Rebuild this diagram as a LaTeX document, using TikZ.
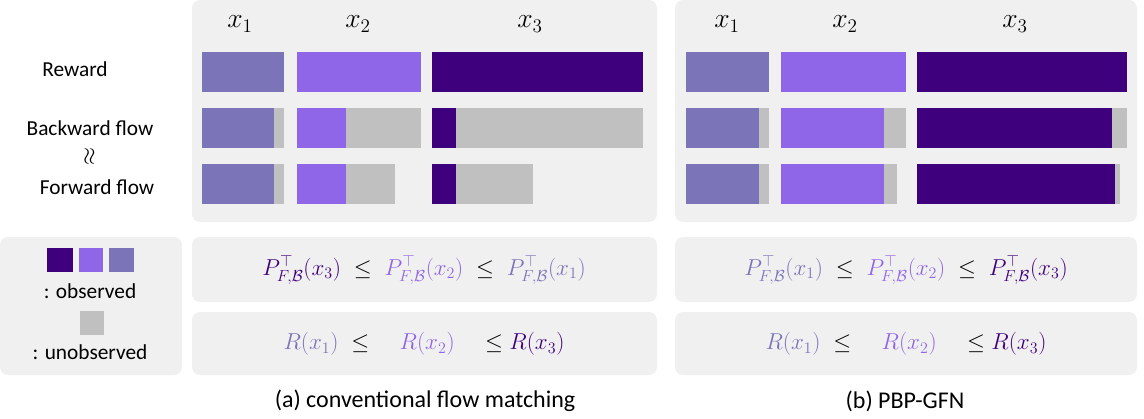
\documentclass[tikz,border=0pt]{standalone}
\usepackage{amsmath}
\usepackage{fontspec}
\setmainfont{Carlito}
\begin{document}
\begin{tikzpicture}[x=0.75pt,y=-0.75pt,
  panel/.style={fill=black!6,draw=none,rounded corners=6pt},
  lab/.style={font=\fontsize{16}{18}\selectfont},
  hdr/.style={font=\fontsize{20}{22}\selectfont},
  fm/.style={font=\fontsize{18}{20}\selectfont}]
\definecolor{cA}{HTML}{7B74B9}
\definecolor{cB}{HTML}{9066E8}
\definecolor{cC}{HTML}{3F007D}
\definecolor{cG}{HTML}{C0C0C0}
\useasboundingbox (0,0) rectangle (1144,418);
\fill[panel] (192,0) rectangle (657,222);
\fill[panel] (675,0) rectangle (1137,222);
\fill[panel] (0,237) rectangle (182,375);
\fill[panel] (192,237) rectangle (657,302);
\fill[panel] (192,312) rectangle (657,375);
\fill[panel] (675,237) rectangle (1137,302);
\fill[panel] (675,312) rectangle (1137,375);
% labels
\node[lab] (rw) at (75,69) {Reward};
\node[lab] (bf) at (90,128) {Backward flow};
\node[lab,rotate=90] (ap) at (90,157) {$\approx$};
\node[lab] (ff) at (97,187) {Forward flow};
% headers
\foreach \n/\x in {1/240,2/358,3/530}{\node[hdr] (la\n) at (\x,24) {$x_\n$};}
\foreach \n/\x in {1/727,2/845,3/1015}{\node[hdr] (lb\n) at (\x,24) {$x_\n$};}
% left bars
\fill[cA] (202,52) rectangle (284,92);
\fill[cB] (297,52) rectangle (421,92);
\fill[cC] (432,52) rectangle (643,92);
\fill[cA] (202,108) rectangle (274,148); \fill[cG] (274,108) rectangle (284,148);
\fill[cB] (297,108) rectangle (346,148); \fill[cG] (346,108) rectangle (421,148);
\fill[cC] (432,108) rectangle (456,148); \fill[cG] (456,108) rectangle (643,148);
\fill[cA] (202,164) rectangle (274,204); \fill[cG] (274,164) rectangle (284,204);
\fill[cB] (297,164) rectangle (346,204); \fill[cG] (346,164) rectangle (395,204);
\fill[cC] (432,164) rectangle (456,204); \fill[cG] (456,164) rectangle (533,204);
% right bars
\fill[cA] (686,52) rectangle (769,92);
\fill[cB] (781,52) rectangle (906,92);
\fill[cC] (917,52) rectangle (1127,92);
\fill[cA] (686,108) rectangle (759,148); \fill[cG] (759,108) rectangle (769,148);
\fill[cB] (781,108) rectangle (884,148); \fill[cG] (884,108) rectangle (906,148);
\fill[cC] (917,108) rectangle (1112,148); \fill[cG] (1112,108) rectangle (1127,148);
\fill[cA] (686,164) rectangle (759,204); \fill[cG] (759,164) rectangle (769,204);
\fill[cB] (781,164) rectangle (884,204); \fill[cG] (884,164) rectangle (897,204);
\fill[cC] (917,164) rectangle (1115,204); \fill[cG] (1115,164) rectangle (1120,204);
% legend
\fill[cC] (47,248) rectangle (73,272);
\fill[cB] (79,248) rectangle (103,272);
\fill[cA] (109,248) rectangle (134,272);
\node[lab] (obs) at (90,291) {: observed};
\fill[cG] (80,311) rectangle (104,335);
\node[lab] (unobs) at (90,352) {: unobserved};
% formulas
\node[fm] (f1) at (424,270) {$\color{cC}P^{\top}_{F,\mathcal{B}}(x_3)\color{black}\;\le\;\color{cB}P^{\top}_{F,\mathcal{B}}(x_2)\color{black}\;\le\;\color{cA}P^{\top}_{F,\mathcal{B}}(x_1)$};
\node[fm] (f2) at (424,344) {$\color{cA}R(x_1)\color{black}\;\le\quad\color{cB}R(x_2)\color{black}\quad\le\color{cC}R(x_3)$};
\node[fm] (f3) at (906,270) {$\color{cA}P^{\top}_{F,\mathcal{B}}(x_1)\color{black}\;\le\;\color{cB}P^{\top}_{F,\mathcal{B}}(x_2)\color{black}\;\le\;\color{cC}P^{\top}_{F,\mathcal{B}}(x_3)$};
\node[fm] (f4) at (906,344) {$\color{cA}R(x_1)\color{black}\;\le\quad\color{cB}R(x_2)\color{black}\quad\le\color{cC}R(x_3)$};
\node[lab,font=\fontsize{18}{20}\selectfont] (ca) at (425,401) {(a) conventional flow matching};
\node[lab,font=\fontsize{18}{20}\selectfont] (cb) at (905,401) {(b) PBP-GFN};
\end{tikzpicture}
\end{document}
